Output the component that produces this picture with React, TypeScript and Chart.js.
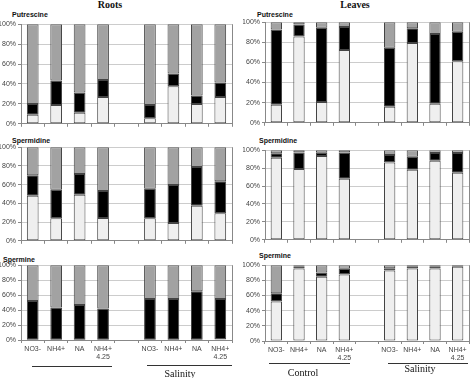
import React, { useEffect, useRef } from "react";
import { Chart, registerables } from "chart.js";
Chart.register(...registerables);

// ---- data ----
const categories: (string | string[])[] = ["NO3-", "NH4+", "NA", ["NH4+", "4.25"], "", "NO3-", "NH4+", "NA", ["NH4+", "4.25"]];
const yTicks = [0, 20, 40, 60, 80, 100];

const rootsPutLight = [9, 19, 11, 27, null, 5.5, 37.6, 20, 27];
const rootsPutBlack = [11, 24.5, 20.5, 17, null, 13.5, 13, 8.5, 14.5];
const rootsPutGray = [80, 56.5, 68.5, 56, null, 81, 49.4, 71.5, 58.5];

const leavesPutLight = [18, 85.7, 20.6, 72.4, null, 16, 79.4, 19, 61.3];
const leavesPutBlack = [74.7, 12, 74, 22.8, null, 58.7, 14.6, 69.3, 29.2];
const leavesPutGray = [7.3, 2.3, 5.4, 4.8, null, 25.3, 6, 11.7, 9.5];

const rootsSpdLight = [48, 24, 49.3, 24.3, null, 24, 19, 37.5, 29.5];
const rootsSpdBlack = [22, 30.5, 22, 28.8, null, 31.6, 40.6, 41.3, 34];
const rootsSpdGray = [30, 45.5, 28.7, 46.9, null, 44.4, 40.4, 21.2, 36.5];

const leavesSpdLight = [91.7, 79, 93.5, 68.2, null, 86.3, 78.3, 88.1, 74.7];
const leavesSpdBlack = [5, 18.5, 3.6, 29.3, null, 8.3, 14.5, 8.7, 22.1];
const leavesSpdGray = [3.3, 2.5, 2.9, 2.5, null, 5.4, 7.2, 3.2, 3.2];

const rootsSpmLight = [0.5, 0.5, 0.5, 0.5, null, 0.5, 0.5, 0.5, 0.8];
const rootsSpmBlack = [51.5, 43.1, 46.2, 41.7, null, 54.2, 54.2, 64.8, 53.9];
const rootsSpmGray = [48, 56.4, 53.3, 57.8, null, 45.3, 45.3, 34.7, 45.3];

const leavesSpmLight = [52, 95.7, 84.8, 87.8, null, 93, 95.7, 95.7, 97.8];
const leavesSpmBlack = [11, 3, 5.6, 7.4, null, 3, 3, 3, 1.3];
const leavesSpmGray = [37, 1.3, 9.6, 4.8, null, 4, 1.3, 1.3, 0.9];

const FONT = "'Liberation Sans', Arial, sans-serif";
const SERIF = "'Liberation Serif', 'Times New Roman', serif";

type Rect = { left: number; top: number; right: number; bottom: number };

const Y_W = 22;
const PAD_TOP = 6;
const PAD_RIGHT = 3;

const frame = {
  id: "frame",
  afterDraw(chart: any) {
    const a = chart.chartArea;
    const ctx = chart.ctx;
    ctx.save();
    ctx.strokeStyle = "#888";
    ctx.lineWidth = 1;
    ctx.beginPath();
    ctx.moveTo(Math.round(a.right) + 0.5, a.top);
    ctx.lineTo(Math.round(a.right) + 0.5, a.bottom);
    ctx.stroke();
    ctx.restore();
  },
};

function Panel({ rect, light, black, gray, labels }: { rect: Rect; light: any[]; black: any[]; gray: any[]; labels: boolean }) {
  const ref = useRef<HTMLCanvasElement>(null);
  const xH = labels ? 24 : 4;
  const cLeft = rect.left - Y_W;
  const cTop = rect.top - PAD_TOP;
  const cW = rect.right + PAD_RIGHT - cLeft;
  const cH = rect.bottom + xH - cTop;
  useEffect(() => {
    const mk = (data: any[], color: string) => ({
      data,
      backgroundColor: color,
      borderColor: "#444",
      borderWidth: 1,
      borderSkipped: false,
      barPercentage: 0.5,
      categoryPercentage: 1,
    });
    const chart = new Chart(ref.current!, {
      type: "bar",
      data: {
        labels: categories,
        datasets: [mk(light, "#efefef"), mk(black, "#000000"), mk(gray, "#a2a2a2")],
      },
      options: {
        responsive: false,
        animation: false,
        events: [],
        layout: { padding: { top: PAD_TOP, right: PAD_RIGHT, left: 0, bottom: 0 } },
        plugins: { legend: { display: false }, tooltip: { enabled: false } },
        scales: {
          x: {
            stacked: true,
            offset: true,
            grid: { display: true, drawOnChartArea: false, drawTicks: true, tickLength: 3, offset: true, color: "#888" },
            border: { display: true, color: "#888" },
            ticks: {
              display: labels,
              autoSkip: false,
              maxRotation: 0,
              padding: 2,
              color: "#444",
              font: { family: FONT, size: 7, lineHeight: 1.15 },
            },
            afterFit: (s: any) => {
              s.height = xH;
            },
          },
          y: {
            stacked: true,
            min: 0,
            max: 100,
            afterBuildTicks: (s: any) => {
              s.ticks = yTicks.map((v) => ({ value: v }));
            },
            grid: { color: "#cccccc", tickColor: "#888", tickLength: 3 },
            border: { display: true, color: "#888" },
            ticks: {
              padding: 2,
              color: "#444",
              font: { family: FONT, size: 7 },
              callback: (v: any) => v + "%",
            },
            afterFit: (s: any) => {
              s.width = Y_W;
            },
          },
        },
      },
      plugins: [frame],
    } as any);
    return () => chart.destroy();
  }, []);
  return (
    <canvas
      ref={ref}
      width={cW}
      height={cH}
      style={{ position: "absolute", left: cLeft, top: cTop, width: cW, height: cH }}
    />
  );
}

function Txt({ x, y, text, size, bold, serif, align }: { x: number; y: number; text: string; size: number; bold?: boolean; serif?: boolean; align?: string }) {
  const tx = align === "left" ? "0" : "-50%";
  return (
    <div
      style={{
        position: "absolute",
        left: x,
        top: y,
        transform: `translate(${tx}, -50%)`,
        fontFamily: serif ? SERIF : FONT,
        fontSize: size,
        fontWeight: bold ? "bold" : "normal",
        lineHeight: 1,
        whiteSpace: "nowrap",
        color: "#111",
      }}
    >
      {text}
    </div>
  );
}

function HLine({ x1, x2, y }: { x1: number; x2: number; y: number }) {
  return <div style={{ position: "absolute", left: x1, top: y, width: x2 - x1, height: 1, background: "#333" }} />;
}

export default function App() {
  return (
    <div style={{ position: "fixed", left: 0, top: 0, width: 474, height: 378, background: "#fff", overflow: "hidden" }}>
      <Txt x={110} y={5} text="Roots" size={10} bold serif />
      <Txt x={355} y={5} text="Leaves" size={10} bold serif />

      <Txt x={12} y={14} text="Putrescine" size={7} bold align="left" />
      <Txt x={257} y={14} text="Putrescine" size={7} bold align="left" />
      <Txt x={12} y={140} text="Spermidine" size={7} bold align="left" />
      <Txt x={259} y={140} text="Spermidine" size={7} bold align="left" />
      <Txt x={3} y={259} text="Spermine" size={7} bold align="left" />
      <Txt x={259} y={255} text="Spermine" size={7} bold align="left" />

      <Panel rect={{ left: 21, top: 24, right: 232, bottom: 126 }} light={rootsPutLight} black={rootsPutBlack} gray={rootsPutGray} labels={false} />
      <Panel rect={{ left: 265, top: 22, right: 469, bottom: 125 }} light={leavesPutLight} black={leavesPutBlack} gray={leavesPutGray} labels={false} />
      <Panel rect={{ left: 21, top: 147, right: 232, bottom: 243 }} light={rootsSpdLight} black={rootsSpdBlack} gray={rootsSpdGray} labels={false} />
      <Panel rect={{ left: 265, top: 150, right: 469, bottom: 242 }} light={leavesSpdLight} black={leavesSpdBlack} gray={leavesSpdGray} labels={false} />
      <Panel rect={{ left: 21, top: 265, right: 232, bottom: 340 }} light={rootsSpmLight} black={rootsSpmBlack} gray={rootsSpmGray} labels={true} />
      <Panel rect={{ left: 265, top: 265, right: 469, bottom: 341 }} light={leavesSpmLight} black={leavesSpmBlack} gray={leavesSpmGray} labels={true} />

      <HLine x1={32} x2={112} y={366} />
      <HLine x1={147} x2={232} y={365} />
      <HLine x1={269} x2={350} y={363} />
      <HLine x1={388} x2={468} y={363} />

      <Txt x={180} y={374} text="Salinity" size={10} serif />
      <Txt x={303} y={373} text="Control" size={10} serif />
      <Txt x={420} y={369} text="Salinity" size={10} serif />
    </div>
  );
}
